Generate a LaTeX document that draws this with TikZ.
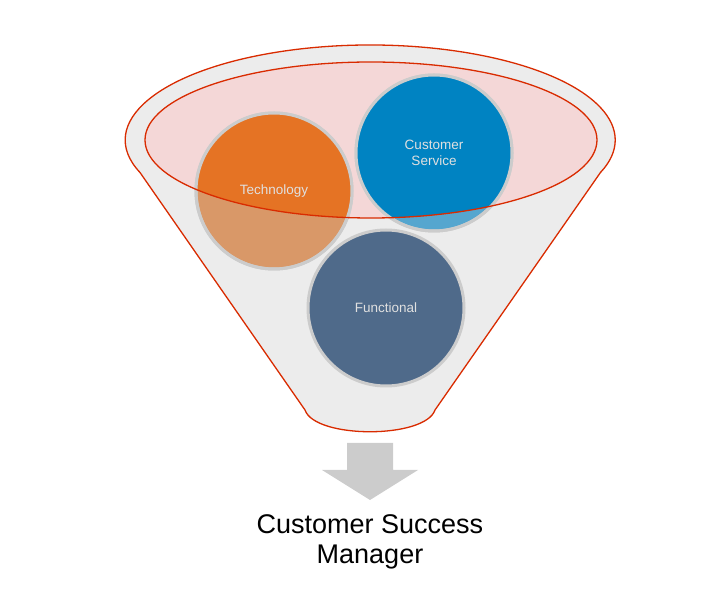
\documentclass[tikz,border=0pt]{standalone}
\usepackage{fontspec}
\setmainfont{Liberation Sans}
\begin{document}
\begin{tikzpicture}[x=1pt,y=1pt,
  circ/.style={circle,minimum size=156pt,inner sep=0pt,draw=gray!40,line width=3pt,text=white!88!black,font=\fontsize{13.5}{16}\selectfont,align=center},
  red/.style={draw=red!60!orange!85!black,line width=1.3pt}]
\definecolor{corange}{HTML}{E57324}
\definecolor{cfaded}{HTML}{D99868}
\definecolor{cblue}{HTML}{0083C2}
\definecolor{cbluef}{HTML}{55A6CF}
\definecolor{cfunc}{HTML}{4F6A8A}
\useasboundingbox (0,0) rectangle (704,597);
% funnel
\filldraw[fill=gray!15,red] (140,424.5) arc[start angle=200,end angle=-20,x radius=245,y radius=95]
  -- (435,187) .. controls (425,158) and (315,158) .. (305,187) -- cycle;
% inner ellipse fill
\fill[red!25,opacity=0.45] (371,457) ellipse[x radius=226,y radius=78];
% faded circles
\node[circ,fill=cfaded] (tech) at (274,406) {};
\node[circ,fill=cbluef] (cs) at (434,444) {};
\begin{scope}
\clip (371,457) ellipse[x radius=226,y radius=78];
\fill[corange] (tech.center) circle (78);
\fill[cblue] (cs.center) circle (78);
\end{scope}
\node[circ,fill=none] at (tech.center) {Technology};
\node[circ,fill=none] at (cs.center) {Customer\\Service};
\node[circ,fill=cfunc] (func) at (386,289) {Functional};
\draw[red] (371,457) ellipse[x radius=226,y radius=78];
% arrow
\fill[gray!40] (347,154) -- (393,154) -- (393,127) -- (418,127) -- (370,97) -- (322,127) -- (347,127) -- cycle;
\node[font=\fontsize{27}{30}\selectfont,align=center] (lbl) at (370,55) {Customer Success\\Manager};
\end{tikzpicture}
\end{document}
